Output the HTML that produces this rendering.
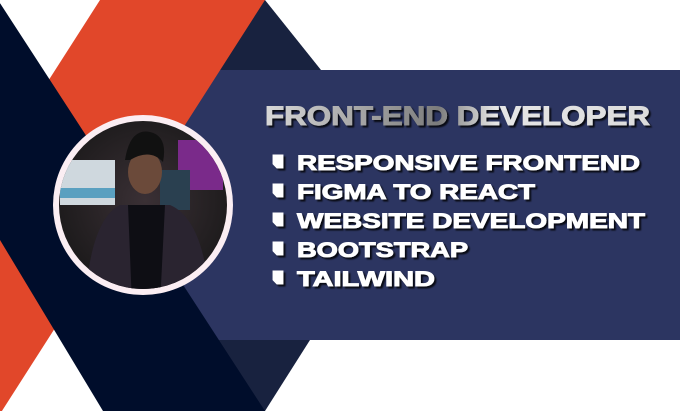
<!DOCTYPE html>
<html><head><meta charset="utf-8"><style>
html,body{margin:0;padding:0;background:#fff;}
svg{display:block;}
text{font-family:"Liberation Sans",Arial,sans-serif;font-weight:bold;}
</style></head><body>
<svg width="680" height="411" viewBox="0 0 680 411" xmlns="http://www.w3.org/2000/svg">
<defs>
<linearGradient id="metal" x1="0" y1="0" x2="1" y2="0">
<stop offset="0" stop-color="#d8d8d8"/><stop offset="0.3" stop-color="#9a9a9a"/><stop offset="0.45" stop-color="#7c7c7c"/><stop offset="0.6" stop-color="#e6e6e6"/><stop offset="1" stop-color="#dcdcdc"/>
</linearGradient>
<radialGradient id="photo" cx="0.5" cy="0.45" r="0.6">
<stop offset="0" stop-color="#3a3035"/><stop offset="1" stop-color="#151515"/>
</radialGradient>
<clipPath id="cc"><circle cx="143" cy="205" r="84"/></clipPath>
<filter id="sh" x="-5%" y="-20%" width="110%" height="150%"><feDropShadow dx="2" dy="2" stdDeviation="0.8" flood-color="#000" flood-opacity="0.8"/></filter>
</defs>
<rect width="680" height="411" fill="#fff"/>
<polygon points="265,0 321,70 310,340 265,411 200,411 200,0" fill="#18223f"/>
<rect x="150" y="70" width="530" height="270" fill="#2c3561"/>
<polygon points="100,0 265,0 0,414 -165,414" fill="#e1472a"/>
<polygon points="-2,0 265,411 103,411 0,240" fill="#000d2b"/>
<circle cx="143" cy="205" r="90" fill="#fbeef3"/>
<g clip-path="url(#cc)">
<rect x="50" y="115" width="190" height="190" fill="url(#photo)"/>
<rect x="60" y="160" width="55" height="45" fill="#cfd8de"/>
<rect x="60" y="188" width="55" height="10" fill="#5aa0c0"/>
<rect x="178" y="140" width="45" height="50" fill="#7a2a8a"/>
<rect x="160" y="170" width="30" height="40" fill="#2a4050"/>
<path d="M85 305 Q90 220 120 205 L170 205 Q205 220 210 305 Z" fill="#2a2430"/>
<path d="M128 205 L165 205 L160 305 L132 305 Z" fill="#0e0e14"/>
<ellipse cx="145" cy="172" rx="17" ry="22" fill="#6b4a3a"/>
<path d="M125 160 Q130 128 150 132 Q168 136 163 162 Q150 148 130 160 Z" fill="#111"/>
</g>
<text x="265" y="125" font-size="27" textLength="385" lengthAdjust="spacingAndGlyphs" fill="url(#metal)" stroke="url(#metal)" stroke-width="0.9" filter="url(#sh)">FRONT-END DEVELOPER</text>
<g fill="#fff" stroke="#fff" stroke-width="0.9" filter="url(#sh)">
<path d="M273 155 h10 v13 h-6 l-4 -4 z"/>
<path d="M273 184 h10 v13 h-6 l-4 -4 z"/>
<path d="M273 213 h10 v13 h-6 l-4 -4 z"/>
<path d="M273 242 h10 v13 h-6 l-4 -4 z"/>
<path d="M273 271 h10 v13 h-6 l-4 -4 z"/>
<text x="297" y="170" font-size="21" textLength="343" lengthAdjust="spacingAndGlyphs">RESPONSIVE FRONTEND</text>
<text x="297" y="199" font-size="21" textLength="238" lengthAdjust="spacingAndGlyphs">FIGMA TO REACT</text>
<text x="297" y="228" font-size="21" textLength="348" lengthAdjust="spacingAndGlyphs">WEBSITE DEVELOPMENT</text>
<text x="297" y="257" font-size="21" textLength="171" lengthAdjust="spacingAndGlyphs">BOOTSTRAP</text>
<text x="297" y="286" font-size="21" textLength="138" lengthAdjust="spacingAndGlyphs">TAILWIND</text>
</g>
</svg>
</body></html>
